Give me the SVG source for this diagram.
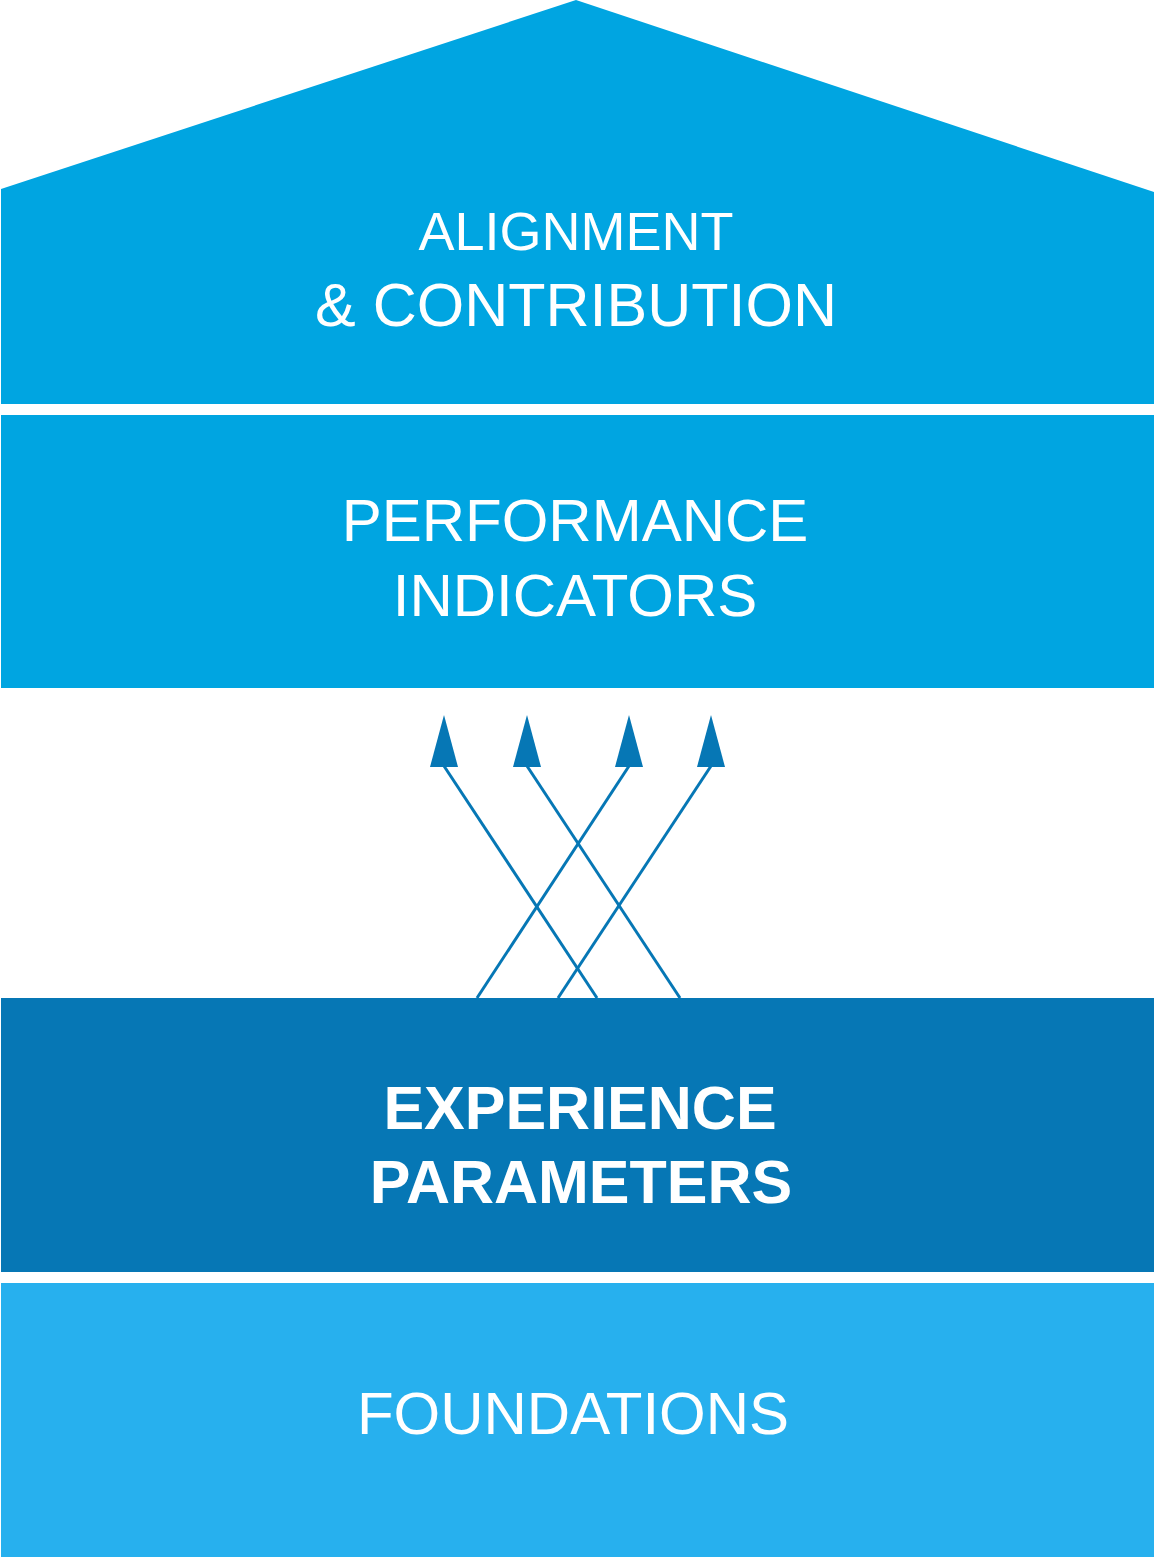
<svg xmlns="http://www.w3.org/2000/svg" width="1154" height="1557" viewBox="0 0 1154 1557">
<style>
.t{font-family:"Liberation Sans",Arial,sans-serif;fill:#fff;text-anchor:middle}
.b{font-weight:bold}
.arr{stroke:#0677B5;stroke-width:3;fill:none;marker-end:url(#ah)}
</style>
<defs>
<marker id="ah" markerUnits="userSpaceOnUse" markerWidth="28" markerHeight="52" refX="14" refY="51" orient="0" viewBox="0 0 28 52">
<path d="M14,0 L28,52 L0,52 Z" fill="#0677B5"/>
</marker>
</defs>
<rect width="1154" height="1557" fill="#fff"/>
<g id="alignment">
<path d="M1,189 L576,0 L1154,192 L1154,404 L1,404 Z" fill="#00A5E1"/>
<text class="t" x="576" y="250" font-size="54">ALIGNMENT</text>
<text class="t" x="576" y="326" font-size="61">&amp; CONTRIBUTION</text>
</g>
<g id="performance">
<rect x="1" y="415" width="1153" height="273" fill="#00A5E1"/>
<text class="t" x="575" y="541" font-size="60">PERFORMANCE</text>
<text class="t" x="575" y="616" font-size="60">INDICATORS</text>
</g>
<g id="experience">
<rect x="1" y="998" width="1153" height="274" fill="#0677B5"/>
<text class="t b" x="580" y="1129" font-size="61">EXPERIENCE</text>
<text class="t b" x="581" y="1203" font-size="61">PARAMETERS</text>
</g>
<g id="foundations">
<rect x="1" y="1283" width="1153" height="274" fill="#27B0EE"/>
<text class="t" x="573" y="1434" font-size="60">FOUNDATIONS</text>
</g>
<g id="connectors">
<line class="arr" x1="597" y1="998" x2="444" y2="766"/>
<line class="arr" x1="680" y1="998" x2="527" y2="766"/>
<line class="arr" x1="477" y1="998" x2="629" y2="766"/>
<line class="arr" x1="558" y1="998" x2="711" y2="766"/>
</g>
</svg>
